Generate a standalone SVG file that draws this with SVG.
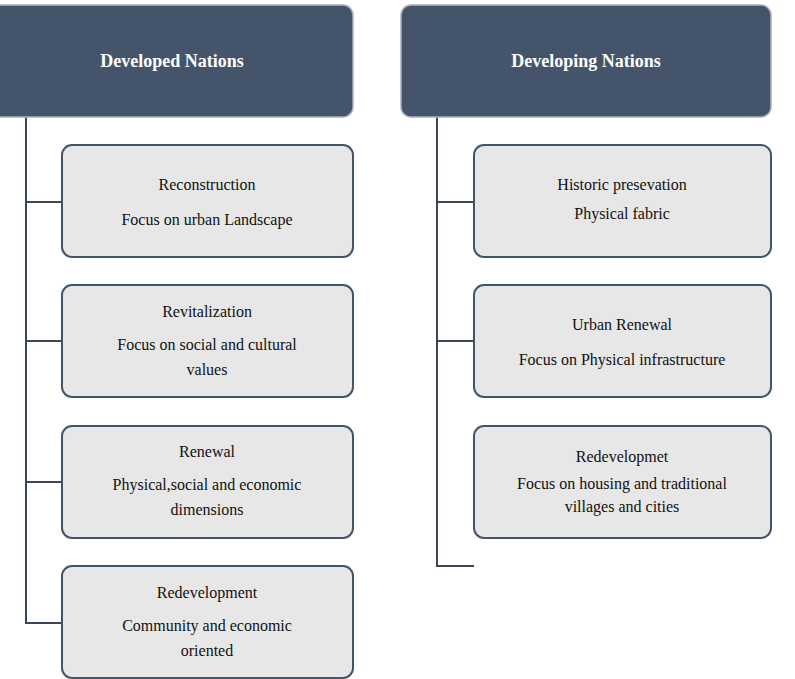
<svg xmlns="http://www.w3.org/2000/svg" width="795" height="679" viewBox="0 0 795 679">
<style>
.h{fill:#44546a;stroke:#a9b1bd;stroke-width:1.5}
.b{fill:#e7e7e7;stroke:#44546a;stroke-width:2}
.c{stroke:#3b4656;stroke-width:2;fill:none}
.t{font-family:"Liberation Serif",serif;font-size:16px;fill:#111;text-anchor:middle}
.ht{font-family:"Liberation Serif",serif;font-size:18px;font-weight:bold;fill:#fff;text-anchor:middle}
</style>
<rect width="795" height="679" fill="#fff"/>
<g id="connectors">
<path class="c" d="M26 117V623H62M26 202H62M26 341H62M26 482H62"/>
<path class="c" d="M437 117V566H474M437 202H474M437 341H474"/>
</g>
<g id="h1"><rect class="h" x="-10" y="5" width="363" height="112" rx="10"/><text class="ht" x="172" y="67">Developed Nations</text></g>
<g id="h2"><rect class="h" x="401" y="5" width="370" height="112" rx="10"/><text class="ht" x="586" y="67">Developing Nations</text></g>
<g id="l1"><rect class="b" x="62" y="145" width="291" height="112" rx="10"/><text class="t" x="207" y="190">Reconstruction</text><text class="t" x="207" y="225">Focus on urban Landscape</text></g>
<g id="l2"><rect class="b" x="62" y="285" width="291" height="112" rx="10"/><text class="t" x="207" y="317">Revitalization</text><text class="t" x="207" y="350">Focus on social and cultural</text><text class="t" x="207" y="375">values</text></g>
<g id="l3"><rect class="b" x="62" y="426" width="291" height="112" rx="10"/><text class="t" x="207" y="457">Renewal</text><text class="t" x="207" y="490">Physical,social and economic</text><text class="t" x="207" y="515">dimensions</text></g>
<g id="l4"><rect class="b" x="62" y="566" width="291" height="112" rx="10"/><text class="t" x="207" y="598">Redevelopment</text><text class="t" x="207" y="631">Community and economic</text><text class="t" x="207" y="656">oriented</text></g>
<g id="r1"><rect class="b" x="474" y="145" width="297" height="112" rx="10"/><text class="t" x="622" y="190">Historic presevation</text><text class="t" x="622" y="219">Physical fabric</text></g>
<g id="r2"><rect class="b" x="474" y="285" width="297" height="112" rx="10"/><text class="t" x="622" y="330">Urban Renewal</text><text class="t" x="622" y="365">Focus on Physical infrastructure</text></g>
<g id="r3"><rect class="b" x="474" y="426" width="297" height="112" rx="10"/><text class="t" x="622" y="462">Redevelopmet</text><text class="t" x="622" y="489">Focus on housing and traditional</text><text class="t" x="622" y="512">villages  and cities</text></g>
</svg>
